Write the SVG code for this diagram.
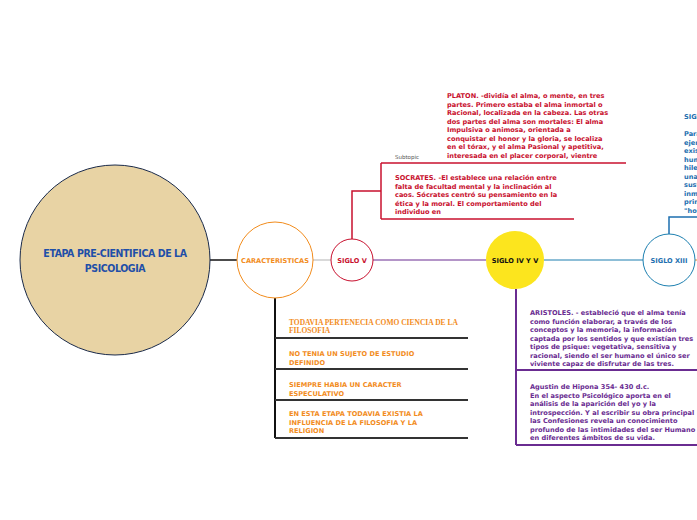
<svg xmlns="http://www.w3.org/2000/svg" width="697" height="520" viewBox="0 0 697 520">
<style>
.t{font-family:"DejaVu Sans",Verdana,sans-serif;font-weight:bold;font-size:6.6px}
.r{fill:#c8102e}.p{fill:#6a2c91}.o{fill:#f28c1c}.b{fill:#1c6fb0}
.ln{fill:none;stroke-width:1.5}
</style>
<rect width="697" height="520" fill="#fff"/>
<g id="connectors">
<line x1="210" y1="260" x2="237" y2="260" stroke="#111" class="ln"/>
<line x1="313" y1="260" x2="331" y2="260" stroke="#ccc" class="ln"/>
<line x1="373" y1="260" x2="486" y2="260" stroke="#6a2c91" stroke-width="1.2"/>
<line x1="544" y1="260" x2="643" y2="260" stroke="#1c7fb0" stroke-width="1.2"/>
<line x1="695" y1="260" x2="697" y2="260" stroke="#f28c1c" stroke-width="1.2"/>
<polyline points="352,239 352,191 381,191" stroke="#c8102e" class="ln"/>
<line x1="381" y1="163" x2="381" y2="219" stroke="#c8102e" class="ln"/>
<line x1="381" y1="163" x2="626" y2="163" stroke="#c8102e" class="ln"/>
<line x1="381" y1="219" x2="574" y2="219" stroke="#c8102e" class="ln"/>
<line x1="516" y1="289" x2="516" y2="445" stroke="#6a2c91" stroke-width="2"/>
<line x1="516" y1="370" x2="697" y2="370" stroke="#6a2c91" stroke-width="2"/>
<line x1="516" y1="445" x2="697" y2="445" stroke="#6a2c91" stroke-width="2"/>
<line x1="275" y1="298" x2="275" y2="438" stroke="#111" stroke-width="2"/>
<line x1="275" y1="338" x2="468" y2="338" stroke="#333" stroke-width="2"/>
<line x1="275" y1="369" x2="468" y2="369" stroke="#333" stroke-width="2"/>
<line x1="275" y1="400" x2="468" y2="400" stroke="#333" stroke-width="2"/>
<line x1="275" y1="438" x2="468" y2="438" stroke="#333" stroke-width="2"/>
<polyline points="669,234 669,217 697,217" stroke="#1c6fb0" class="ln"/>
</g>
<g id="main">
<circle cx="115" cy="260" r="95" fill="#e8d3a4" stroke="#1a2a4a" stroke-width="1"/>
<text x="115" y="257" text-anchor="middle" font-family="'DejaVu Sans Condensed','DejaVu Sans',sans-serif" font-weight="bold" font-size="10.5" letter-spacing="-0.4" fill="#1f4fa8">ETAPA PRE-CIENTIFICA DE LA</text>
<text x="115" y="272" text-anchor="middle" font-family="'DejaVu Sans Condensed','DejaVu Sans',sans-serif" font-weight="bold" font-size="10.5" letter-spacing="-0.4" fill="#1f4fa8">PSICOLOGIA</text>
</g>
<g id="caracteristicas">
<circle cx="275" cy="260" r="38" fill="#fff" stroke="#f28c1c" stroke-width="1"/>
<text x="275" y="263" text-anchor="middle" class="t o" font-size="6.5">CARACTERISTICAS</text>
</g>
<g id="siglo5">
<circle cx="352" cy="260" r="21" fill="#fff" stroke="#c8102e" stroke-width="1"/>
<text x="352" y="263" text-anchor="middle" class="t r">SIGLO V</text>
</g>
<g id="siglo45">
<circle cx="515" cy="260" r="29" fill="#fce51e"/>
<text x="515" y="263" text-anchor="middle" class="t" fill="#111">SIGLO IV Y V</text>
</g>
<g id="siglo13">
<circle cx="669" cy="260" r="26" fill="#fff" stroke="#1c7fb0" stroke-width="1"/>
<text x="669" y="263" text-anchor="middle" class="t b">SIGLO XIII</text>
</g>
<g id="subtopic">
<text x="395" y="159" font-family="'DejaVu Sans',sans-serif" font-size="5.5" fill="#555">Subtopic</text>
</g>
<g id="platon" class="t r">
<text x="447" y="98">PLATON. -dividía el alma, o mente, en tres</text>
<text x="447" y="106.5">partes. Primero estaba el alma inmortal o</text>
<text x="447" y="115">Racional, localizada en la cabeza. Las otras</text>
<text x="447" y="123.5">dos partes del alma son mortales: El alma</text>
<text x="447" y="132">Impulsiva o animosa, orientada a</text>
<text x="447" y="140.5">conquistar el honor y la gloria, se localiza</text>
<text x="447" y="149">en el tórax, y el alma Pasional y apetitiva,</text>
<text x="447" y="157.5">interesada en el placer corporal, vientre</text>
</g>
<g id="socrates" class="t r">
<text x="395" y="180">SOCRATES. -El establece una relación entre</text>
<text x="395" y="188.5">falta de facultad mental y la inclinación al</text>
<text x="395" y="197">caos. Sócrates centró su pensamiento en la</text>
<text x="395" y="205.5">ética y la moral. El comportamiento del</text>
<text x="395" y="214">individuo en</text>
</g>
<g id="aristoteles" class="t p">
<text x="530" y="315">ARISTOLES. - estableció que el alma tenía</text>
<text x="530" y="323.5">como función elaborar, a través de los</text>
<text x="530" y="332">conceptos y la memoria, la información</text>
<text x="530" y="340.5">captada por los sentidos y que existían tres</text>
<text x="530" y="349">tipos de psique: vegetativa, sensitiva y</text>
<text x="530" y="357.5">racional, siendo el ser humano el único ser</text>
<text x="530" y="366">viviente capaz de disfrutar de las tres.</text>
</g>
<g id="agustin" class="t p">
<text x="530" y="389">Agustin de Hipona 354- 430 d.c.</text>
<text x="530" y="397.5">En el aspecto Psicológico aporta en el</text>
<text x="530" y="406">análisis de la aparición del yo y la</text>
<text x="530" y="414.5">introspección. Y al escribir su obra principal</text>
<text x="530" y="423">las Confesiones revela un conocimiento</text>
<text x="530" y="431.5">profundo de las intimidades del ser Humano</text>
<text x="530" y="440">en diferentes ámbitos de su vida.</text>
</g>
<g id="carac-items" class="t o">
<text x="289" y="325" font-family="'Liberation Serif',serif" font-size="7.5">TODAVIA PERTENECIA COMO CIENCIA DE LA</text>
<text x="289" y="333" font-family="'Liberation Serif',serif" font-size="7.5">FILOSOFIA</text>
<text x="289" y="356">NO TENIA UN SUJETO DE ESTUDIO</text>
<text x="289" y="364.5">DEFINIDO</text>
<text x="289" y="387">SIEMPRE HABIA UN CARACTER</text>
<text x="289" y="395.5">ESPECULATIVO</text>
<text x="289" y="416">EN ESTA ETAPA TODAVIA EXISTIA LA</text>
<text x="289" y="424.5">INFLUENCIA DE LA FILOSOFIA Y LA</text>
<text x="289" y="433">RELIGION</text>
</g>
<g id="siglo13-text" class="t b">
<text x="684" y="119">SIGLO XIII</text>
<text x="684" y="136">Para</text>
<text x="684" y="144.5">ejemplo</text>
<text x="684" y="153">existe</text>
<text x="684" y="161.5">humano</text>
<text x="684" y="170">hilemórfico</text>
<text x="684" y="178.5">una</text>
<text x="684" y="187">sustancia</text>
<text x="684" y="195.5">inmortal</text>
<text x="684" y="204">principio</text>
<text x="684" y="212.5">"hombre"</text>
</g>
</svg>
